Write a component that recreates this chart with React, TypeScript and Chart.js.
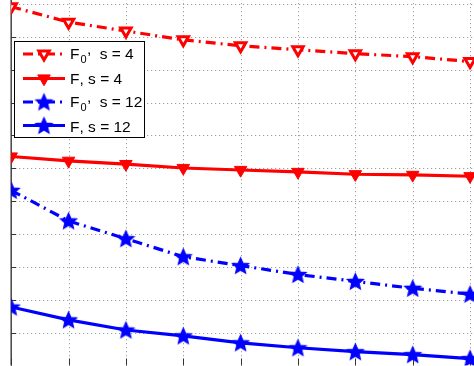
import React, { useEffect, useRef } from "react";
import { Chart, registerables } from "chart.js";

Chart.register(...registerables);

// ---- data (arbitrary axis units: one grid step = 1) ----
const xValues = [1, 2, 3, 4, 5, 6, 7, 8, 9];
const yGridValues = [1, 2, 3, 4, 5, 6, 7, 8, 9, 10, 11, 12];
const f0S4 = [10.92, 10.45, 10.18, 9.91, 9.73, 9.61, 9.49, 9.4, 9.25];
const fS4 = [6.36, 6.23, 6.13, 6.01, 5.95, 5.89, 5.82, 5.8, 5.76];
const f0S12 = [5.33, 4.4, 3.86, 3.31, 3.04, 2.77, 2.56, 2.35, 2.17];
const fS12 = [1.78, 1.39, 1.08, 0.9, 0.69, 0.54, 0.42, 0.33, 0.21];
const legendMain = ["F", "F", "F", "F"];
const legendSub = ["0", "", "0", ""];
const legendRest = [", s = 4", ", s = 4", ", s = 12", ", s = 12"];

const RED = "#ff0000";
const BLUE = "#0000ff";
const DASHDOT = [10, 5, 2, 5];

const CANVAS_W = 540;
const CANVAS_H = 420;
const OFFSET_Y = 40;

function makeStar(color: string, R: number): HTMLCanvasElement {
  const size = Math.ceil(R * 2 + 4);
  const c = document.createElement("canvas");
  c.width = size;
  c.height = size;
  const ctx = c.getContext("2d")!;
  const cx = size / 2;
  const cy = size / 2 + R * 0.08;
  const r = R * 0.46;
  ctx.beginPath();
  for (let i = 0; i < 10; i++) {
    const ang = -Math.PI / 2 + (i * Math.PI) / 5;
    const rr = i % 2 === 0 ? R : r;
    ctx.lineTo(cx + rr * Math.cos(ang), cy + rr * Math.sin(ang));
  }
  ctx.closePath();
  ctx.fillStyle = color;
  ctx.fill();
  ctx.lineWidth = 1.2;
  ctx.strokeStyle = color;
  ctx.stroke();
  return c;
}

function drawTri(ctx: CanvasRenderingContext2D, x: number, y: number, r: number, fill: string, stroke: string, lw: number) {
  ctx.save();
  ctx.setLineDash([]);
  ctx.beginPath();
  for (let i = 0; i < 3; i++) {
    const ang = Math.PI + (i * 2 * Math.PI) / 3;
    ctx.lineTo(x + Math.sin(ang) * r, y - Math.cos(ang) * r);
  }
  ctx.closePath();
  ctx.fillStyle = fill;
  ctx.fill();
  ctx.lineWidth = lw;
  ctx.strokeStyle = stroke;
  ctx.lineJoin = "miter";
  ctx.stroke();
  ctx.restore();
}

export default function App() {
  const ref = useRef<HTMLCanvasElement | null>(null);

  useEffect(() => {
    if (!ref.current) return;
    const star = makeStar(BLUE, 8.5);

    const gridPlugin = {
      id: "dotgrid",
      beforeDatasetsDraw(chart: any) {
        const ctx: CanvasRenderingContext2D = chart.ctx;
        const { left, right, top, bottom } = chart.chartArea;
        const xs = chart.scales.x;
        const ys = chart.scales.y;
        ctx.save();
        ctx.strokeStyle = "#8a8a8a";
        ctx.lineWidth = 1;
        ctx.setLineDash([1, 3]);
        for (const v of xValues.slice(1)) {
          const px = Math.round(xs.getPixelForValue(v)) + 0.5;
          ctx.beginPath();
          ctx.moveTo(px, top);
          ctx.lineTo(px, bottom);
          ctx.stroke();
        }
        for (const v of yGridValues) {
          const py = Math.round(ys.getPixelForValue(v)) + 0.5;
          ctx.beginPath();
          ctx.moveTo(left, py);
          ctx.lineTo(right, py);
          ctx.stroke();
        }
        ctx.setLineDash([]);
        ctx.strokeStyle = "#444";
        ctx.lineWidth = 1.5;
        ctx.beginPath();
        ctx.moveTo(left, top);
        ctx.lineTo(left, bottom);
        ctx.stroke();
        ctx.strokeStyle = "#333";
        ctx.lineWidth = 1;
        for (const v of xValues) {
          const px = Math.round(xs.getPixelForValue(v)) + 0.5;
          ctx.beginPath();
          ctx.moveTo(px, bottom);
          ctx.lineTo(px, bottom - 7);
          ctx.stroke();
        }
        for (const v of yGridValues) {
          const py = Math.round(ys.getPixelForValue(v)) + 0.5;
          ctx.beginPath();
          ctx.moveTo(left, py);
          ctx.lineTo(left + 5, py);
          ctx.stroke();
        }
        ctx.restore();
      },
    };

    const legendPlugin = {
      id: "matlegend",
      afterDraw(chart: any) {
        const ctx: CanvasRenderingContext2D = chart.ctx;
        ctx.save();
        const bx = 14.5, by = 41.5 + OFFSET_Y, bw = 130, bh = 96;
        ctx.fillStyle = "#ffffff";
        ctx.fillRect(bx, by, bw, bh);
        ctx.strokeStyle = "#000";
        ctx.lineWidth = 1;
        ctx.setLineDash([]);
        ctx.strokeRect(bx, by, bw, bh);

        const lineYs = [54, 78.5, 102, 125.5];
        const baseYs = [58.5, 83.5, 107, 131.5];
        const colors = [RED, RED, BLUE, BLUE];
        const dashed = [true, false, true, false];
        for (let i = 0; i < 4; i++) {
          const ly = lineYs[i] + OFFSET_Y;
          ctx.save();
          ctx.strokeStyle = colors[i];
          ctx.lineWidth = 3.2;
          ctx.setLineDash(dashed[i] ? DASHDOT : []);
          ctx.beginPath();
          ctx.moveTo(23, ly);
          ctx.lineTo(65, ly);
          ctx.stroke();
          ctx.restore();
          if (i === 0) drawTri(ctx, 44, ly, 6, "#ffffff", RED, 3);
          else if (i === 1) drawTri(ctx, 44, ly, 7.2, RED, RED, 1);
          else ctx.drawImage(star, 44 - star.width / 2, ly - star.height / 2);

          const bl = baseYs[i] + OFFSET_Y;
          let tx = 70;
          ctx.fillStyle = "#000";
          ctx.textBaseline = "alphabetic";
          ctx.textAlign = "left";
          ctx.font = "15.5px 'Liberation Sans', Arial, sans-serif";
          ctx.fillText(legendMain[i], tx, bl);
          tx += ctx.measureText(legendMain[i]).width;
          if (legendSub[i]) {
            ctx.font = "11px 'Liberation Sans', Arial, sans-serif";
            tx += 1;
            ctx.fillText(legendSub[i], tx, bl + 4);
            tx += ctx.measureText(legendSub[i]).width + 0.5;
            ctx.font = "15.5px 'Liberation Sans', Arial, sans-serif";
            ctx.fillText(",", tx, bl - 5);
            tx += ctx.measureText(",").width + 4;
            ctx.fillText(legendRest[i].slice(1), tx, bl);
          } else {
            ctx.fillText(legendRest[i], tx, bl);
          }
        }
        ctx.restore();
      },
    };

    const toPts = (arr: number[]) => arr.map((y, i) => ({ x: xValues[i], y }));

    const chart = new Chart(ref.current, {
      type: "line",
      data: {
        datasets: [
          {
            label: "F_0, s = 4",
            data: toPts(f0S4),
            borderColor: RED,
            borderWidth: 3.2,
            borderDash: DASHDOT,
            pointStyle: "triangle",
            rotation: 180,
            pointRadius: 6,
            pointBackgroundColor: "#ffffff",
            pointBorderColor: RED,
            pointBorderWidth: 3,
            fill: false,
          } as any,
          {
            label: "F, s = 4",
            data: toPts(fS4),
            borderColor: RED,
            borderWidth: 3.2,
            pointStyle: "triangle",
            rotation: 180,
            pointRadius: 7.2,
            pointBackgroundColor: RED,
            pointBorderColor: RED,
            pointBorderWidth: 1,
            fill: false,
          } as any,
          {
            label: "F_0, s = 12",
            data: toPts(f0S12),
            borderColor: BLUE,
            borderWidth: 3.2,
            borderDash: DASHDOT,
            pointStyle: star,
            pointRadius: 8,
            fill: false,
          } as any,
          {
            label: "F, s = 12",
            data: toPts(fS12),
            borderColor: BLUE,
            borderWidth: 3.2,
            pointStyle: star,
            pointRadius: 8,
            fill: false,
          } as any,
        ],
      },
      options: {
        responsive: false,
        animation: false,
        devicePixelRatio: 1,
        layout: { padding: { left: 4.5, right: 12.6, top: 7.1, bottom: 14.5 } },
        plugins: { legend: { display: false }, tooltip: { enabled: false } },
        scales: {
          x: {
            type: "linear",
            min: 1,
            max: 10,
            ticks: { display: false, stepSize: 1 },
            grid: { display: false, drawTicks: false },
            border: { display: false },
            afterFit(scale: any) {
              scale.height = 0;
            },
          },
          y: {
            type: "linear",
            min: 0,
            max: 12,
            ticks: { display: false, stepSize: 1 },
            grid: { display: false, drawTicks: false },
            border: { display: false },
            afterFit(scale: any) {
              scale.width = 0;
            },
          },
        },
      } as any,
      plugins: [gridPlugin, legendPlugin],
    });
    return () => chart.destroy();
  }, []);

  return (
    <div
      style={{
        position: "fixed",
        left: 0,
        top: 0,
        width: 474,
        height: 366,
        overflow: "hidden",
        background: "#fff",
      }}
    >
      <canvas
        ref={ref}
        width={CANVAS_W}
        height={CANVAS_H}
        style={{ position: "absolute", left: 0, top: -OFFSET_Y, width: CANVAS_W, height: CANVAS_H }}
      />
    </div>
  );
}
